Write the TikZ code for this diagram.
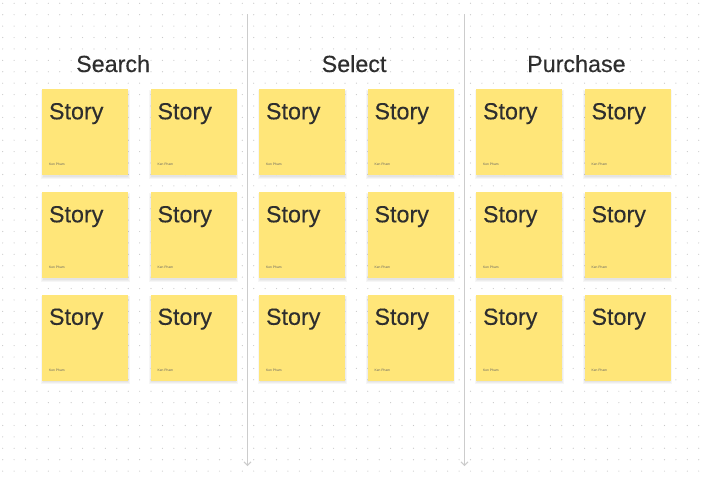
\documentclass[tikz,border=0pt]{standalone}
\usepackage{fontspec}
\setmainfont{Liberation Sans}
\usetikzlibrary{arrows.meta}
\definecolor{sticky}{HTML}{FFE679}
\definecolor{ink}{HTML}{2E2E2E}
\definecolor{dotc}{HTML}{C9C9C9}
\definecolor{rulec}{HTML}{CCCCCC}
\begin{document}
\begin{tikzpicture}[x=1pt,y=-1pt,
  note/.style={rectangle, fill=sticky, draw=none, minimum width=86pt, minimum height=86pt, inner sep=0pt},
  shadowbox/.style={fill=black, opacity=0.035},
  storytxt/.style={font=\fontsize{23.3}{24}\selectfont\addfontfeatures{FakeBold=0.3}, text=ink, inner sep=0pt, anchor=base west},
  authortxt/.style={font=\fontsize{3.3}{4}\selectfont, text=ink!75, inner sep=0pt, anchor=base west},
  titletxt/.style={font=\fontsize{23.3}{24}\selectfont\addfontfeatures{FakeBold=0.3}, text=ink, inner sep=0pt, anchor=base west},
  laneline/.style={draw=rulec, line width=1.3pt, -{Straight Barb[length=3.5pt,width=7pt,line width=1pt]}}
]
\useasboundingbox (0,0) rectangle (708,477);
\fill[white] (0,0) rectangle (708,477);
% dot grid
\foreach \i in {0,...,61}{
  \foreach \j in {0,...,41}{
    \fill[dotc] (2.7+\i*11.41, 3.3+\j*11.41) circle (0.6);
  }
}
% lane lines
\coordinate (l1top) at (247.5,14);
\coordinate (l1bot) at (247.5,466);
\coordinate (l2top) at (464.5,14);
\coordinate (l2bot) at (464.5,466);
\draw[laneline] (l1top) -- (l1bot);
\draw[laneline] (l2top) -- (l2bot);
% titles
\node[titletxt] (tsearch) at (76,72) {Search};
\node[titletxt] (tselect) at (321.5,72) {Select};
\node[titletxt] (tpurchase) at (527,72) {Purchase};
% notes
\foreach \cx [count=\ci] in {42,150.5,259,367.5,476,584.5}{
  \foreach \ry [count=\ri] in {89,192,294.5}{
    \fill[shadowbox] (\cx-1.5,\ry+1) rectangle (\cx+87.5,\ry+89.5);
    \fill[shadowbox] (\cx-0.5,\ry+1.5) rectangle (\cx+86.5,\ry+88.5);
    \fill[shadowbox] (\cx+0.5,\ry+2) rectangle (\cx+85.5,\ry+87.5);
    \node[note] (n\ci\ri) at (\cx+43,\ry+43) {};
    \node[storytxt] (s\ci\ri) at (\cx+6.8,\ry+30.3) {Story};
    \node[authortxt] (a\ci\ri) at (\cx+7,\ry+76.8) {Ken Pham};
  }
}
\end{tikzpicture}
\end{document}
